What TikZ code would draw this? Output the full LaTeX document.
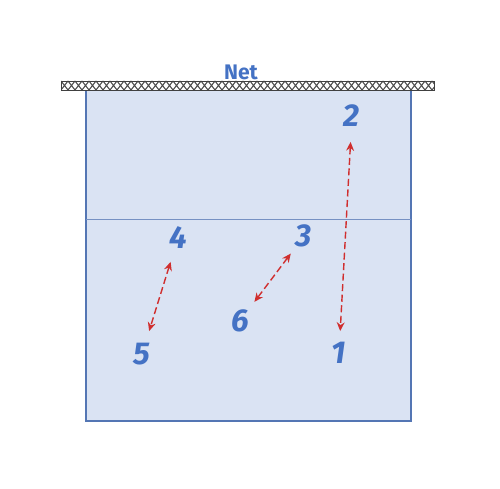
\documentclass[tikz,border=0pt]{standalone}
\usepackage{fontspec}
\setmainfont{Fira Sans}
\usetikzlibrary{arrows.meta}
\definecolor{courtfill}{HTML}{DAE3F3}
\definecolor{courtline}{HTML}{5476B4}
\definecolor{posblue}{HTML}{4472C4}
\definecolor{swapred}{HTML}{D02E2E}
\tikzset{
  spot/.style={text=posblue,font=\fontsize{18}{18}\selectfont\bfseries\itshape,inner sep=0pt},
  swap/.style={swapred,dash pattern=on 4pt off 2pt,thick,{Stealth[length=5pt,width=4.5pt]}-{Stealth[length=5pt,width=4.5pt]}}
}
\begin{document}
\begin{tikzpicture}[x=0.02cm,y=-0.02cm]
  \useasboundingbox (0,0) rectangle (500,489);
  % court
  \draw[courtline,semithick,fill=courtfill] (86,88) rectangle (411,421);
  \draw[courtline!80] (86,219) -- (411,219);
  % net
  \fill[white] (61,81) rectangle (434,90);
  \begin{scope}
    \clip (61,81) rectangle (434,90);
    \foreach \x in {61,68,...,434}{
      \draw[black!70,line width=0.6pt] (\x,81) -- (\x+7,90) (\x,90) -- (\x+7,81);
    }
  \end{scope}
  \draw[black!75] (61,81) rectangle (434,90);
  \node[spot,font=\fontsize{12}{12}\selectfont\bfseries] (net) at (241,72) {Net};
  % positions
  \node[spot] (n1) at (339,353) {1};
  \node[spot] (n2) at (352,116) {2};
  \node[spot] (n3) at (304,236) {3};
  \node[spot] (n4) at (178,238) {4};
  \node[spot] (n5) at (142,354) {5};
  \node[spot] (n6) at (240,321) {6};
  % switches
  \draw[swap,shorten <=0.52cm,shorten >=0.44cm] (n2.center) -- (n1.center);
  \draw[swap,shorten <=0.5cm,shorten >=0.48cm] (n4.center) -- (n5.center);
  \draw[swap,shorten <=0.44cm,shorten >=0.48cm] (n3.center) -- (n6.center);
\end{tikzpicture}
\end{document}
